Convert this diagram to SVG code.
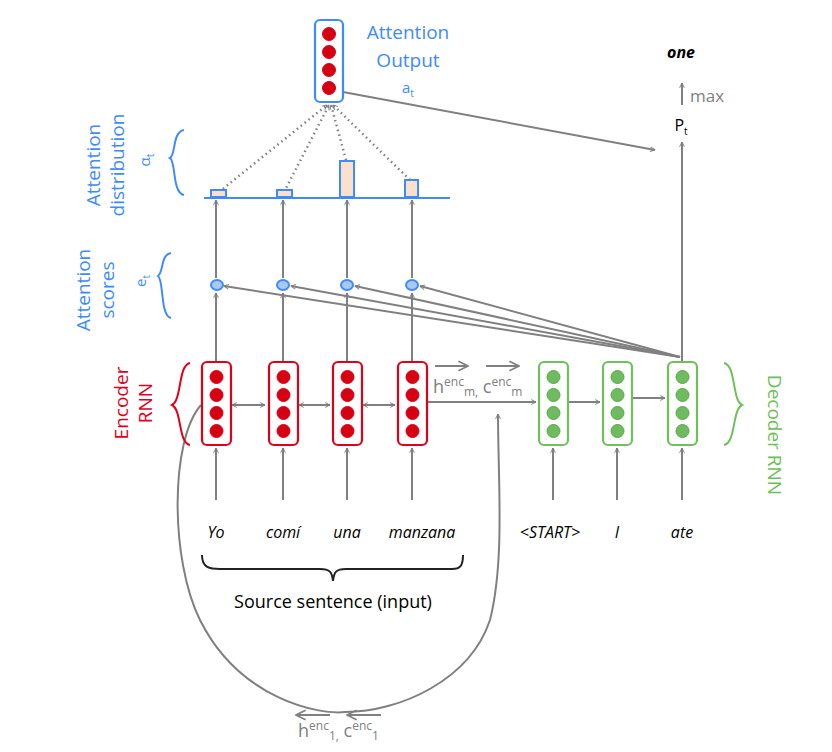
<svg xmlns="http://www.w3.org/2000/svg" width="832" height="752" viewBox="0 0 832 752">
<defs>
<marker id="ah" viewBox="0 0 10 10" refX="9" refY="5" markerWidth="6" markerHeight="6" orient="auto-start-reverse" markerUnits="userSpaceOnUse"><path d="M1,1 L9,5 L1,9" fill="none" stroke="#808080" stroke-width="1.6"/></marker>
<marker id="ahs" viewBox="0 0 10 10" refX="9" refY="5" markerWidth="12" markerHeight="12" orient="auto-start-reverse" markerUnits="userSpaceOnUse"><path d="M1,1 L9,5 L1,9" fill="none" stroke="#808080" stroke-width="1.4"/></marker>
<style>
.ln{stroke:#808080;stroke-width:2;fill:none}
.dot{stroke:#808080;stroke-width:2.5;stroke-dasharray:1.5 3.5;fill:none}
.enc{fill:#fff;stroke:#e0001b;stroke-width:2.2}
.dec{fill:#fff;stroke:#6fbf5a;stroke-width:2.2}
.att{fill:#fff;stroke:#3d8bfd;stroke-width:2.2}
.rd{fill:#d50011;stroke:#e0001b}
.gd{fill:#6fbb5f;stroke:#5aa84a}
.sc{fill:#a9c8f3;stroke:#3d8bfd;stroke-width:2}
.bar{fill:#fbe0cc;stroke:#3d8bfd;stroke-width:2}
.bl{fill:#3d8bfd;font-family:"Open Sans","Liberation Sans",sans-serif}
.t{font-family:"Open Sans","Liberation Sans",sans-serif}
.br{fill:none;stroke-width:2}
</style>
</defs>
<g id="connectors">
<line class="ln" x1="216" y1="500" x2="216" y2="448" marker-end="url(#ah)"/>
<line class="ln" x1="283" y1="500" x2="283" y2="448" marker-end="url(#ah)"/>
<line class="ln" x1="347" y1="500" x2="347" y2="448" marker-end="url(#ah)"/>
<line class="ln" x1="412" y1="500" x2="412" y2="448" marker-end="url(#ah)"/>
<line class="ln" x1="553" y1="500" x2="553" y2="448" marker-end="url(#ah)"/>
<line class="ln" x1="617" y1="500" x2="617" y2="448" marker-end="url(#ah)"/>
<line class="ln" x1="682" y1="500" x2="682" y2="448" marker-end="url(#ah)"/>
<line class="ln" x1="232" y1="405" x2="265" y2="405" marker-start="url(#ah)" marker-end="url(#ah)"/>
<line class="ln" x1="299" y1="405" x2="330" y2="405" marker-start="url(#ah)" marker-end="url(#ah)"/>
<line class="ln" x1="363" y1="405" x2="395" y2="405" marker-start="url(#ah)" marker-end="url(#ah)"/>
<line class="ln" x1="428" y1="402" x2="536" y2="402" marker-end="url(#ah)"/>
<line class="ln" x1="569" y1="402" x2="600" y2="402" marker-end="url(#ah)"/>
<line class="ln" x1="633" y1="398" x2="665" y2="398" marker-end="url(#ah)"/>
<path class="ln" d="M201,405 C170,440 170,560 200,620 C240,700 320,715 345,712 C400,712 470,680 490,620 C505,560 498,480 498,414" marker-end="url(#ah)"/>
<line class="ln" x1="216" y1="362" x2="216" y2="293" marker-end="url(#ah)"/>
<line class="ln" x1="283" y1="362" x2="283" y2="293" marker-end="url(#ah)"/>
<line class="ln" x1="347" y1="362" x2="347" y2="293" marker-end="url(#ah)"/>
<line class="ln" x1="412" y1="362" x2="412" y2="293" marker-end="url(#ah)"/>
<line class="ln" x1="216" y1="278" x2="216" y2="200" marker-end="url(#ah)"/>
<line class="ln" x1="283" y1="278" x2="283" y2="200" marker-end="url(#ah)"/>
<line class="ln" x1="347" y1="278" x2="347" y2="200" marker-end="url(#ah)"/>
<line class="ln" x1="412" y1="278" x2="412" y2="200" marker-end="url(#ah)"/>
<line class="ln" x1="680" y1="357" x2="224" y2="286" marker-end="url(#ah)"/>
<line class="ln" x1="680" y1="357" x2="291" y2="286" marker-end="url(#ah)"/>
<line class="ln" x1="680" y1="357" x2="355" y2="286" marker-end="url(#ah)"/>
<line class="ln" x1="680" y1="357" x2="420" y2="286" marker-end="url(#ah)"/>
<line class="ln" x1="682" y1="362" x2="682" y2="142" marker-end="url(#ah)"/>
<line class="ln" x1="682" y1="105" x2="682" y2="83" marker-end="url(#ah)"/>
<line class="ln" x1="343" y1="92" x2="655" y2="150" marker-end="url(#ah)"/>
<line class="dot" x1="219" y1="192" x2="327" y2="105" marker-end="url(#ah)"/>
<line class="dot" x1="284" y1="192" x2="329" y2="105" marker-end="url(#ah)"/>
<line class="dot" x1="346" y1="160" x2="331" y2="105" marker-end="url(#ah)"/>
<line class="dot" x1="410" y1="180" x2="333" y2="105" marker-end="url(#ah)"/>
</g>
<g id="encoder">
<g id="enc1"><rect class="enc" x="202" y="362" width="29" height="83" rx="5"/><circle class="rd" cx="216.5" cy="377" r="6.5"/><circle class="rd" cx="216.5" cy="395" r="6.5"/><circle class="rd" cx="216.5" cy="413" r="6.5"/><circle class="rd" cx="216.5" cy="431" r="6.5"/></g>
<g id="enc2"><rect class="enc" x="269" y="362" width="29" height="83" rx="5"/><circle class="rd" cx="283.5" cy="377" r="6.5"/><circle class="rd" cx="283.5" cy="395" r="6.5"/><circle class="rd" cx="283.5" cy="413" r="6.5"/><circle class="rd" cx="283.5" cy="431" r="6.5"/></g>
<g id="enc3"><rect class="enc" x="333" y="362" width="29" height="83" rx="5"/><circle class="rd" cx="347.5" cy="377" r="6.5"/><circle class="rd" cx="347.5" cy="395" r="6.5"/><circle class="rd" cx="347.5" cy="413" r="6.5"/><circle class="rd" cx="347.5" cy="431" r="6.5"/></g>
<g id="enc4"><rect class="enc" x="398" y="362" width="29" height="83" rx="5"/><circle class="rd" cx="412.5" cy="377" r="6.5"/><circle class="rd" cx="412.5" cy="395" r="6.5"/><circle class="rd" cx="412.5" cy="413" r="6.5"/><circle class="rd" cx="412.5" cy="431" r="6.5"/></g>
</g>
<g id="decoder">
<g id="dec1"><rect class="dec" x="539" y="362" width="29" height="83" rx="5"/><circle class="gd" cx="553.5" cy="377" r="6.5"/><circle class="gd" cx="553.5" cy="395" r="6.5"/><circle class="gd" cx="553.5" cy="413" r="6.5"/><circle class="gd" cx="553.5" cy="431" r="6.5"/></g>
<g id="dec2"><rect class="dec" x="603" y="362" width="29" height="83" rx="5"/><circle class="gd" cx="617.5" cy="377" r="6.5"/><circle class="gd" cx="617.5" cy="395" r="6.5"/><circle class="gd" cx="617.5" cy="413" r="6.5"/><circle class="gd" cx="617.5" cy="431" r="6.5"/></g>
<g id="dec3"><rect class="dec" x="668" y="362" width="29" height="83" rx="5"/><circle class="gd" cx="682.5" cy="377" r="6.5"/><circle class="gd" cx="682.5" cy="395" r="6.5"/><circle class="gd" cx="682.5" cy="413" r="6.5"/><circle class="gd" cx="682.5" cy="431" r="6.5"/></g>
</g>
<g id="scores">
<ellipse class="sc" cx="217" cy="285" rx="6" ry="5"/><ellipse class="sc" cx="283" cy="285" rx="6" ry="5"/><ellipse class="sc" cx="347" cy="285" rx="6" ry="5"/><ellipse class="sc" cx="412" cy="285" rx="6" ry="5"/>
</g>
<g id="distribution">
<rect class="bar" x="211" y="190" width="15" height="7"/><rect class="bar" x="277" y="190" width="15" height="7"/><rect class="bar" x="340" y="161" width="14" height="36"/><rect class="bar" x="405" y="180" width="13" height="17"/>
<line x1="204" y1="198" x2="450" y2="198" stroke="#3d8bfd" stroke-width="2.2"/>
</g>
<g id="attnout">
<rect class="att" x="315" y="20" width="28" height="82" rx="5"/><circle class="rd" cx="329" cy="34" r="6.5"/><circle class="rd" cx="329" cy="52" r="6.5"/><circle class="rd" cx="329" cy="70" r="6.5"/><circle class="rd" cx="329" cy="88" r="6.5"/>
<text class="bl" x="408" y="39" font-size="19" text-anchor="middle">Attention</text>
<text class="bl" x="408" y="67" font-size="19" text-anchor="middle">Output</text>
<text class="bl" x="402" y="93" font-size="15">a<tspan font-size="10" dy="4">t</tspan></text>
</g>
<g id="labels">
<text class="bl" font-size="19" text-anchor="middle" transform="translate(100,165) rotate(-90)">Attention</text>
<text class="bl" font-size="19" text-anchor="middle" transform="translate(124,165) rotate(-90)">distribution</text>
<text class="bl" font-size="15" text-anchor="middle" transform="translate(150,160) rotate(-90)">α<tspan font-size="10" dy="4">t</tspan></text>
<path class="br" stroke="#3d8bfd" d="M184,130 C172,132 176,155 170,158 C176,161 172,193 184,195"/>
<text class="bl" font-size="19" text-anchor="middle" transform="translate(90,290) rotate(-90)">Attention</text>
<text class="bl" font-size="19" text-anchor="middle" transform="translate(114,290) rotate(-90)">scores</text>
<text class="bl" font-size="15" text-anchor="middle" transform="translate(146,281) rotate(-90)">e<tspan font-size="10" dy="4">t</tspan></text>
<path class="br" stroke="#3d8bfd" d="M171,253 C160,255 164,272 158,276 C164,280 160,316 171,318"/>
<text font-size="19" fill="#e0001b" text-anchor="middle" class="t" transform="translate(128,403) rotate(-90)">Encoder</text>
<text font-size="19" fill="#e0001b" text-anchor="middle" class="t" transform="translate(152,403) rotate(-90)">RNN</text>
<path class="br" stroke="#e0001b" d="M190,363 C178,365 182,400 172,405 C182,410 178,443 190,445"/>
<text font-size="19" fill="#6fbf5a" text-anchor="middle" class="t" transform="translate(768,435) rotate(90)">Decoder RNN</text>
<path class="br" stroke="#6fbf5a" d="M724,363 C736,365 732,400 742,405 C732,410 736,443 724,445"/>
<text class="t" x="681" y="131" font-size="16" text-anchor="middle">P<tspan font-size="10" dy="4">t</tspan></text>
<text class="t" x="681" y="58" font-size="16" font-style="italic" font-weight="bold" text-anchor="middle">one</text>
<text class="t" x="690" y="102" font-size="17" fill="#808080">max</text>
<g class="t" font-size="16" font-style="italic" text-anchor="middle">
<text x="216" y="538">Yo</text><text x="283" y="538">comí</text><text x="347" y="538">una</text><text x="422" y="538">manzana</text>
<text x="550" y="538">&lt;START&gt;</text><text x="617" y="538">I</text><text x="682" y="538">ate</text>
</g>
<path class="br" stroke="#222" d="M202,555 C202,568 210,569 220,569 L320,569 C330,569 332,572 333,581 C334,572 336,569 346,569 L452,569 C460,569 463,566 463,555"/>
<text class="t" x="333" y="608" font-size="18" text-anchor="middle">Source sentence (input)</text>
<g fill="#808080" class="t" font-size="18">
<text x="433" y="393">h<tspan font-size="12" dy="-7">enc</tspan><tspan font-size="12" dy="10">m,</tspan><tspan dy="-3"> c</tspan><tspan font-size="12" dy="-7">enc</tspan><tspan font-size="12" dy="10">m</tspan></text>
<text x="298" y="737">h<tspan font-size="12" dy="-7">enc</tspan><tspan font-size="12" dy="10">1,</tspan><tspan dy="-3"> c</tspan><tspan font-size="12" dy="-7">enc</tspan><tspan font-size="12" dy="10">1</tspan></text>
</g>
<line class="ln" stroke-width="1.3" x1="435" y1="366" x2="468" y2="366" marker-end="url(#ahs)"/>
<line class="ln" stroke-width="1.3" x1="486" y1="366" x2="519" y2="366" marker-end="url(#ahs)"/>
<line class="ln" stroke-width="1.3" x1="330" y1="715" x2="296" y2="715" marker-end="url(#ahs)"/>
<line class="ln" stroke-width="1.3" x1="381" y1="715" x2="347" y2="715" marker-end="url(#ahs)"/>
</g>
</svg>
